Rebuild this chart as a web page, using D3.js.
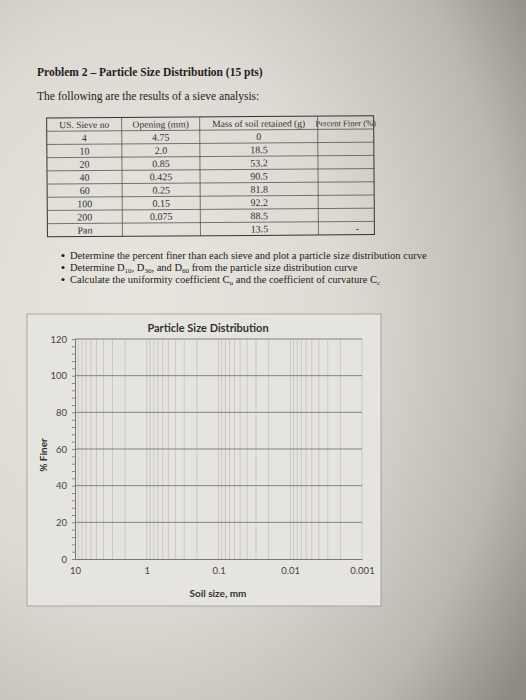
<!DOCTYPE html>
<html>
<head>
<meta charset="utf-8">
<script src="https://cdn.jsdelivr.net/npm/d3@7"></script>
<style>
  body { margin: 0; }
  svg { display: block; }
</style>
</head>
<body>
<script>
// sieve analysis data
var sieveNo = ["4", "10", "20", "40", "60", "100", "200", "Pan"];
var openings = ["4.75", "2.0", "0.85", "0.425", "0.25", "0.15", "0.075", ""];
var massRetained = ["0", "18.5", "53.2", "90.5", "81.8", "92.2", "88.5", "13.5"];
var headers = ["US. Sieve no", "Opening (mm)", "Mass of soil retained (g)", "Percent Finer (%)"];

// empty chart axes
var yTicks = [0, 20, 40, 60, 80, 100, 120];
var xTicks = [10, 1, 0.1, 0.01, 0.001];

var width = 526, height = 700;
var svg = d3.select("body").append("svg").attr("width", width).attr("height", height);

// paper background with a photo-ish shading
var defs = svg.append("defs");
var grad = defs.append("radialGradient").attr("id", "paper")
    .attr("cx", "0.25").attr("cy", "0.45").attr("r", "0.9");
grad.append("stop").attr("offset", "0").attr("stop-color", "#e8e5df");
grad.append("stop").attr("offset", "0.45").attr("stop-color", "#dedad3");
grad.append("stop").attr("offset", "0.8").attr("stop-color", "#bdb8af");
grad.append("stop").attr("offset", "1").attr("stop-color", "#8f8a82");
svg.append("rect").attr("width", width).attr("height", height).attr("fill", "url(#paper)");

var serif = "'Liberation Serif', 'DejaVu Serif', serif";
var sans = "Lato, 'Open Sans', sans-serif";

svg.append("text").attr("x", 37).attr("y", 76)
    .style("font-family", serif).style("font-size", "11.5px").style("font-weight", "bold").attr("fill", "#222")
    .text("Problem 2 – Particle Size Distribution (15 pts)");
svg.append("text").attr("x", 37).attr("y", 100)
    .style("font-family", serif).style("font-size", "11.5px").attr("fill", "#222")
    .text("The following are the results of a sieve analysis:");

// table
var colX = [47, 122, 200, 318, 374];
var rowH = 13.2, tTop = 117;
var table = svg.append("g").attr("transform", "rotate(-0.4, 200, 170)");
var nRows = sieveNo.length + 1;
table.append("rect").attr("x", colX[0]).attr("y", tTop)
    .attr("width", colX[4] - colX[0]).attr("height", rowH * nRows)
    .attr("fill", "none").attr("stroke", "#333");
d3.range(1, nRows).forEach(function (i) {
    table.append("line").attr("x1", colX[0]).attr("x2", colX[4])
        .attr("y1", tTop + i * rowH).attr("y2", tTop + i * rowH).attr("stroke", "#444").attr("stroke-width", 0.7);
});
colX.slice(1, 4).forEach(function (x) {
    table.append("line").attr("x1", x).attr("x2", x)
        .attr("y1", tTop).attr("y2", tTop + rowH * nRows).attr("stroke", "#444").attr("stroke-width", 0.7);
});
headers.forEach(function (h, i) {
    table.append("text").attr("x", (colX[i] + colX[i + 1]) / 2).attr("y", tTop + rowH - 3)
        .attr("text-anchor", "middle").style("font-family", serif)
        .style("font-size", i == 3 ? "8.5px" : "9.5px").attr("fill", "#333")
        .text(h);
});
[sieveNo, openings, massRetained].forEach(function (col, c) {
    col.forEach(function (v, r) {
        table.append("text").attr("x", (colX[c] + colX[c + 1]) / 2).attr("y", tTop + (r + 2) * rowH - 3)
            .attr("text-anchor", "middle").style("font-family", serif).style("font-size", "10px").attr("fill", "#333")
            .text(v);
    });
});
table.append("text").attr("x", 357).attr("y", tTop + 9 * rowH - 3).attr("text-anchor", "middle")
    .style("font-size", "10px").attr("fill", "#333").text("-");

// bullet list
var bullets = [
    ["Determine the percent finer than each sieve and plot a particle size distribution curve"],
    ["Determine D", "10", ", D", "30", ", and D", "60", " from the particle size distribution curve"],
    ["Calculate the uniformity coefficient C", "u", " and the coefficient of curvature C", "c"]
];
bullets.forEach(function (parts, i) {
    var y = 259 + i * 12;
    svg.append("circle").attr("cx", 63).attr("cy", y - 3.5).attr("r", 1.6).attr("fill", "#222");
    var t = svg.append("text").attr("x", 70).attr("y", y)
        .style("font-family", serif).style("font-size", "10.5px").attr("fill", "#222");
    parts.forEach(function (p, j) {
        var ts = t.append("tspan").text(p);
        if (j % 2 == 1) ts.style("font-size", "7px").attr("dy", 2);
        else if (j > 0) ts.attr("dy", -2);
    });
});

// chart panel
svg.append("rect").attr("x", 27).attr("y", 314).attr("width", 354).attr("height", 292)
    .attr("fill", "#e6e4df").attr("stroke", "#999").attr("stroke-width", 0.8);

var x = d3.scaleLog().domain([10, 0.001]).range([75, 362]);
var y = d3.scaleLinear().domain([0, 120]).range([559, 339]);

var g = svg.append("g");
// minor log grid
var minor = [];
xTicks.slice(0, 4).forEach(function (d) {
    d3.range(1, 10).forEach(function (k) { minor.push(d * k / 10); });
});
g.selectAll(".vgrid").data(minor).enter().append("line")
    .attr("class", "vgrid")
    .attr("x1", function (d) { return x(d); }).attr("x2", function (d) { return x(d); })
    .attr("y1", y(120)).attr("y2", y(0))
    .attr("stroke", "#b8b6b0").attr("stroke-width", 0.6);
g.selectAll(".hgrid").data(yTicks.slice(1)).enter().append("line")
    .attr("class", "hgrid")
    .attr("x1", x(10)).attr("x2", x(0.001))
    .attr("y1", function (d) { return y(d); }).attr("y2", function (d) { return y(d); })
    .attr("stroke", "#777").attr("stroke-width", 0.9);

var yAxis = d3.axisLeft(y).tickValues(d3.range(0, 121, 4)).tickSize(3)
    .tickFormat(function (d) { return yTicks.indexOf(d) >= 0 ? d : ""; });
var ya = svg.append("g").attr("transform", "translate(" + x(10) + ",0)").call(yAxis);
ya.select(".domain").attr("stroke", "#777");
ya.selectAll("line").attr("stroke", "#888");
ya.selectAll("text").style("font-family", sans).style("font-size", "9.5px").attr("fill", "#444").attr("dx", -2);

var xAxis = d3.axisBottom(x).tickValues(xTicks).tickSize(0).tickFormat(function (d) { return String(d); });
var xa = svg.append("g").attr("transform", "translate(0," + y(0) + ")").call(xAxis);
xa.select(".domain").attr("stroke", "#777");
xa.selectAll("text").style("font-family", sans).style("font-size", "9.5px").attr("fill", "#444").attr("dy", 12);

svg.append("text").attr("x", 208).attr("y", 332).attr("text-anchor", "middle")
    .style("font-family", sans).style("font-size", "11px").style("font-weight", "bold").attr("fill", "#333")
    .text("Particle Size Distribution");
svg.append("text").attr("x", 218).attr("y", 597).attr("text-anchor", "middle")
    .style("font-family", sans).style("font-size", "10px").style("font-weight", "bold").attr("fill", "#333")
    .text("Soil size, mm");
svg.append("text").attr("transform", "translate(47,455) rotate(-90)").attr("text-anchor", "middle")
    .style("font-family", sans).style("font-size", "10px").style("font-weight", "bold").attr("fill", "#333")
    .text("% Finer");
</script>
</body>
</html>
